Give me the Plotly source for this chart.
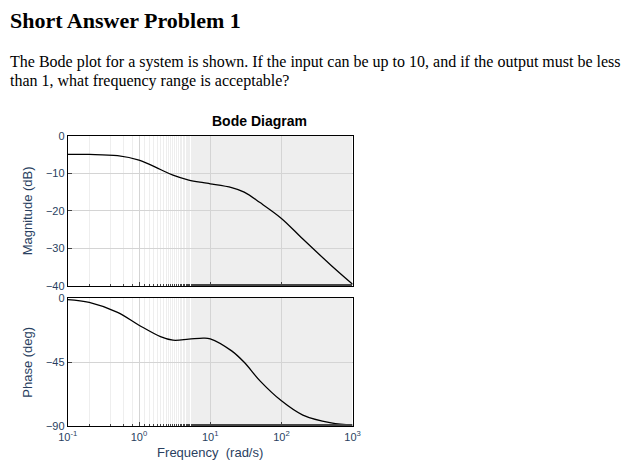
import plotly.graph_objects as go
from plotly.subplots import make_subplots

# frequency samples (rad/s)
freq = [0.1, 0.2, 0.5, 1, 2, 3, 5, 8, 10, 20, 30, 50, 100, 200, 500, 1000]
mag_db = [-5, -5, -5.3, -6.5, -9, -10.5, -11.8, -12.5, -12.8, -13.8, -15, -17.8, -22, -27.5, -34.5, -39.5]
phase_deg = [-1, -3, -10, -19, -27, -29.5, -28.8, -28, -28.5, -37, -45, -58, -72, -82, -87.5, -89]

xticks = [0.1, 1, 10, 100, 1000]
xtick_text = ["10<sup>-1</sup>", "10<sup>0</sup>", "10<sup>1</sup>", "10<sup>2</sup>", "10<sup>3</sup>"]

W, H = 644, 476


def px(x):
    # pixel -> paper x (compensating the page offset seen in the render)
    return (x - 20) / 0.976 / W


def py(y):
    # pixel from top -> paper y
    return 1 - (y - 13.7) / 0.972 / H


x0, x1 = px(70), px(356)

fig = make_subplots(rows=2, cols=1)
fig.add_trace(go.Scatter(x=freq, y=mag_db, mode="lines", line=dict(color="black", width=1.3, shape="spline")), row=1, col=1)
fig.add_trace(go.Scatter(x=freq, y=phase_deg, mode="lines", line=dict(color="black", width=1.3, shape="spline")), row=2, col=1)

ax_common = dict(type="log", range=[-1, 3], showline=True, mirror=True, linecolor="black", linewidth=1,
                 showgrid=True, gridcolor="#d4d4d4", ticks="inside", ticklen=4,
                 minor=dict(showgrid=True, gridcolor="#eeeeee", ticks="inside", ticklen=2),
                 tickvals=xticks, ticktext=xtick_text, tickfont=dict(family="Arial", size=11), domain=[x0, x1])
fig.update_xaxes(**ax_common)
fig.update_xaxes(showticklabels=False, row=1, col=1)
fig.update_xaxes(title=dict(text="Frequency  (rad/s)", font=dict(family="Arial", size=13), standoff=6), row=2, col=1)

ay_common = dict(showline=True, mirror=True, linecolor="black", linewidth=1, showgrid=True,
                 gridcolor="#d4d4d4", ticks="inside", ticklen=4, tickfont=dict(family="Arial", size=11), zeroline=False)
fig.update_yaxes(**ay_common)
fig.update_yaxes(range=[-40, 0], tickvals=[0, -10, -20, -30, -40], domain=[py(285), py(135)],
                 title=dict(text="Magnitude (dB)", font=dict(family="Arial", size=13), standoff=10), row=1, col=1)
fig.update_yaxes(range=[-90, 0], tickvals=[0, -45, -90], domain=[py(425), py(297)],
                 title=dict(text="Phase (deg)", font=dict(family="Arial", size=13), standoff=10), row=2, col=1)

fig.add_annotation(x=(x0 + x1) / 2, y=py(120), xref="paper", yref="paper", yanchor="middle", text="<b>Bode Diagram</b>",
                   showarrow=False, font=dict(family="Arial", size=14, color="black"))
fig.add_annotation(x=px(10), y=py(20), xref="paper", yref="paper", xanchor="left", yanchor="middle", showarrow=False,
                   text="<b>Short Answer Problem 1</b>", font=dict(family="Liberation Serif", size=22, color="black"))
fig.add_annotation(x=px(10), y=py(62), xref="paper", yref="paper", xanchor="left", yanchor="middle", showarrow=False,
                   text="The Bode plot for a system is shown. If the input can be up to 10, and if the output must be less",
                   font=dict(family="Liberation Serif", size=16, color="black"))
fig.add_annotation(x=px(10), y=py(81), xref="paper", yref="paper", xanchor="left", yanchor="middle", showarrow=False,
                   text="than 1, what frequency range is acceptable?",
                   font=dict(family="Liberation Serif", size=16, color="black"))

fig.update_layout(width=W, height=H, margin=dict(l=0, r=0, t=0, b=0), showlegend=False,
                  plot_bgcolor="white", paper_bgcolor="white")
fig.write_html("out.html")
